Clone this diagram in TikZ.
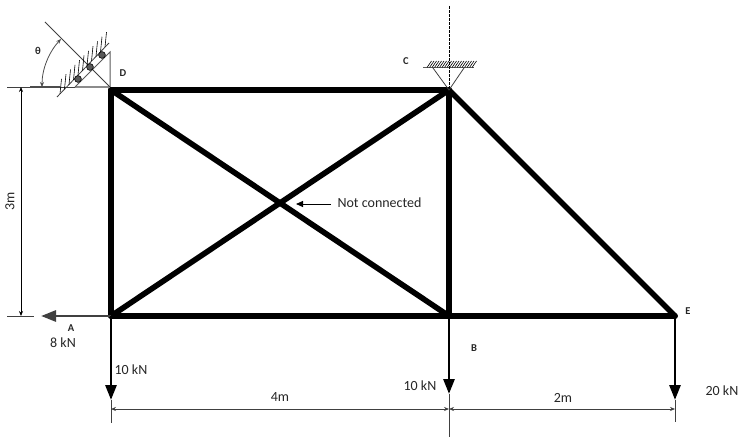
\documentclass[tikz,border=0pt]{standalone}
\usepackage{fontspec}
\setmainfont{Carlito}
\usetikzlibrary{arrows.meta}
\definecolor{loadgray}{HTML}{404040}
\tikzset{
  member/.style={line width=5.6pt,line cap=round},
  load/.style={line width=2.8pt,-{Triangle[length=15pt,width=11pt]}},
  thin line/.style={line width=0.8pt,draw=black!75},
  dimline/.style={line width=0.7pt,draw=black!75,{Stealth[length=5pt,width=4pt]}-{Stealth[length=5pt,width=4pt]}},
  lbl/.style={font=\fontsize{14}{16}\selectfont,text=black!85,inner sep=0pt},
  joint/.style={font=\fontsize{10.5}{12}\selectfont\bfseries,text=black!85,inner sep=0pt}
}
\begin{document}
\begin{tikzpicture}[x=1pt,y=-1pt]
  \useasboundingbox (0,0) rectangle (742,441);
  % joints
  \coordinate (A) at (111,316);
  \coordinate (B) at (449,316);
  \coordinate (C) at (449,90);
  \coordinate (D) at (111,90);
  \coordinate (E) at (675,316);
  % members
  \draw[member] (A) -- (D);
  \draw[member] (D) -- (C);
  \draw[member] (C) -- (B);
  \draw[member] (A) -- (B);
  \draw[member] (B) -- (E);
  \draw[member] (C) -- (E);
  \draw[member] (A) -- (C);
  \draw[member] (D) -- (B);
  % loads
  \coordinate (Aleft) at (41,316);
  \coordinate (Adown) at (111,400);
  \coordinate (Bdown) at (449,394);
  \coordinate (Edown) at (675,400);
  \draw[load,draw=loadgray] (A) -- (Aleft);
  \draw[load] (A) -- (Adown);
  \draw[load] (B) -- (Bdown);
  \draw[load] (E) -- (Edown);
  % dimension lines
  \coordinate (Aend) at (111,423);
  \coordinate (Bend) at (449,437);
  \coordinate (Eend) at (675,422);
  \coordinate (dimA) at (111,409);
  \coordinate (dimB) at (449,409);
  \coordinate (dimE) at (675,409);
  \draw[thin line] (Adown) -- (Aend);
  \draw[thin line] (Bdown) -- (Bend);
  \draw[thin line] (Edown) -- (Eend);
  \draw[dimline] (dimA) -- (dimB);
  \draw[dimline] (dimB) -- (dimE);
  \coordinate (topL) at (7,87);
  \coordinate (topR) at (110,87);
  \coordinate (botL) at (7,316);
  \coordinate (botR) at (34,316);
  \coordinate (dimT) at (21,87);
  \coordinate (dimU) at (21,316);
  \draw[thin line] (topL) -- (topR);
  \draw[line width=1.6pt,draw=black!70] (30,87) -- (60,87);
  \draw[line width=1.6pt,draw=black!45] (75,87) -- (110,87);
  \draw[thin line] (botL) -- (botR);
  \draw[line width=0.7pt,{Stealth[length=5pt,width=4pt]}-{Stealth[length=5pt,width=4pt]}] (dimT) -- (dimU);
  % support at D
  \coordinate (railL) at (57,97);
  \coordinate (railR) at (109,43);
  \coordinate (triL) at (75,87);
  \coordinate (triT) at (110,52);
  \coordinate (thetaS) at (45,22);
  \coordinate (thetaB) at (61,39);
  \coordinate (thetaA) at (42,87);
  \draw[thin line] (railL) -- (railR);
  \draw[line width=1pt,draw=black!65] (triL) -- (triT) -- (topR);
  \draw[thin line] (thetaS) -- (topR);
  \foreach \x in {60,64.5,...,106}
    \draw[line width=0.6pt] (\x,{97-(\x-57)*1.04}) -- ++(1.5,-15);
  \foreach \x/\y in {78/79,90/67,102/55}
    \draw[fill=black!65,line width=0.6pt] (\x,\y) circle (3.4);
  \draw[line width=0.8pt,draw=black!70,{Stealth[length=5pt,width=4pt]}-{Stealth[length=5pt,width=4pt]}] (thetaA) .. controls (42,69) and (49,52) .. (thetaB);
  % support at C
  \coordinate (hatchL) at (423,68);
  \coordinate (hatchR) at (474,68);
  \coordinate (dashT) at (449,6);
  \draw[line width=1pt,draw=black!65] (hatchL) -- (hatchR);
  \draw[thin line] (433,68) -- (C) -- (464,68);
  \draw[line width=0.7pt,dash pattern=on 3pt off 1pt] (dashT) -- (C);
  \foreach \x in {427,429.5,...,472}
    \draw[line width=0.6pt] (\x,67.5) -- ++(4.5,-6.5);
  % not connected pointer
  \coordinate (crossP) at (296,204);
  \coordinate (notstart) at (331,204);
  \node[lbl] (notconn) at (379.5,203) {Not connected};
  \draw[line width=1pt,-{Triangle[length=7pt,width=6pt]}] (notstart) -- (crossP);
  % labels
  \node[joint] (lblA) at (71,328) {A};
  \node[joint] (lblB) at (474,348) {B};
  \node[joint] (lblC) at (406,61) {C};
  \node[joint] (lblD) at (123,73) {D};
  \node[joint] (lblE) at (688,311) {E};
  \node[joint] (lbltheta) at (38,51) {θ};
  \node[lbl] (lbl8) at (63,343) {8 kN};
  \node[lbl] (lbl10a) at (131,370) {10 kN};
  \node[lbl] (lbl10b) at (420,386) {10 kN};
  \node[lbl] (lbl20) at (722,391) {20 kN};
  \node[lbl] (lbl4m) at (280,397) {4m};
  \node[lbl] (lbl2m) at (563,398) {2m};
  \node[lbl,rotate=90] (lbl3m) at (10,201) {3m};
\end{tikzpicture}
\end{document}
